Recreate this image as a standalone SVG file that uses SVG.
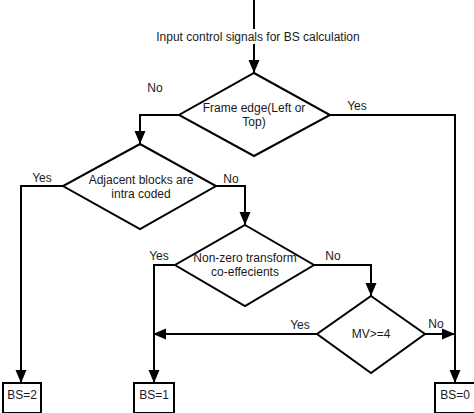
<svg xmlns="http://www.w3.org/2000/svg" width="474" height="413" viewBox="0 0 474 413">
<style>
text{font-family:"Liberation Sans",Arial,sans-serif;font-size:12px;fill:#1a1a1a;text-anchor:middle}
.shape{fill:#fff;stroke:#000;stroke-width:2}
.conn{fill:none;stroke:#000;stroke-width:2}
</style>
<defs>
<marker id="ah" markerUnits="userSpaceOnUse" markerWidth="13" markerHeight="13" viewBox="0 0 13 13" refX="13" refY="6.5" orient="auto">
<path d="M0,1 L13,6.5 L0,12 Z" fill="#000"/>
</marker>
</defs>
<rect width="474" height="413" fill="#fff"/>
<g id="connectors">
<path class="conn" d="M254,0 V29"/>
<path class="conn" d="M254,44 V73" marker-end="url(#ah)"/>
<path class="conn" d="M179,115 H140 V144" marker-end="url(#ah)"/>
<path class="conn" d="M330,115 H455 V383" marker-end="url(#ah)"/>
<path class="conn" d="M63,186 H21 V383" marker-end="url(#ah)"/>
<path class="conn" d="M216,186 H245 V225" marker-end="url(#ah)"/>
<path class="conn" d="M175,265 H154 V383" marker-end="url(#ah)"/>
<path class="conn" d="M314,265 H371 V296" marker-end="url(#ah)"/>
<path class="conn" d="M317,334 H153" marker-end="url(#ah)"/>
<path class="conn" d="M425,334 H455" marker-end="url(#ah)"/>
<text x="258" y="41">Input control signals for BS calculation</text>
<text x="155" y="92">No</text>
<text x="357" y="110">Yes</text>
<text x="42" y="182">Yes</text>
<text x="231" y="183">No</text>
<text x="159" y="260">Yes</text>
<text x="333" y="260">No</text>
<text x="300" y="329">Yes</text>
<text x="436" y="328">No</text>
</g>
<g id="frame-edge">
<polygon class="shape" points="254,73 330,115 254,156 179,115"/>
<text x="254" y="112">Frame edge(Left or</text>
<text x="254" y="126">Top)</text>
</g>
<g id="adjacent-intra">
<polygon class="shape" points="140,144 216,186 140,229 63,186"/>
<text x="141" y="184">Adjacent blocks are</text>
<text x="141" y="198">intra coded</text>
</g>
<g id="non-zero">
<polygon class="shape" points="245,225 314,265 245,306 175,265"/>
<text x="245" y="262">Non-zero transform</text>
<text x="245" y="276">co-effecients</text>
</g>
<g id="mv">
<polygon class="shape" points="371,296 425,334 371,373 317,334"/>
<text x="371" y="338">MV&gt;=4</text>
</g>
<g id="bs2">
<rect class="shape" x="3" y="383" width="38" height="30"/>
<text x="22" y="399">BS=2</text>
</g>
<g id="bs1">
<rect class="shape" x="134" y="383" width="40" height="30"/>
<text x="154" y="399">BS=1</text>
</g>
<g id="bs0">
<rect class="shape" x="435" y="383" width="40" height="30"/>
<text x="455" y="399">BS=0</text>
</g>
</svg>
